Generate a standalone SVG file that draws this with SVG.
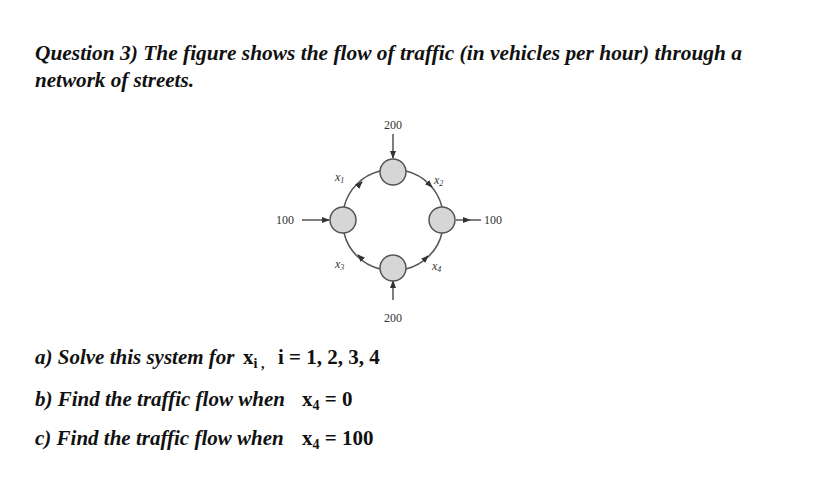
<svg xmlns="http://www.w3.org/2000/svg" width="828" height="500" viewBox="0 0 828 500">
<style>
.q{font-family:"Liberation Serif",serif;font-weight:bold;font-style:italic;font-size:21px;fill:#111}
.m{font-family:"Liberation Serif",serif;font-weight:bold;font-style:normal;fill:#111}
.l{font-family:"Liberation Serif",serif;font-size:12px;fill:#333}
.v{font-family:"Liberation Serif",serif;font-style:italic;font-size:12px;fill:#333}
.n{fill:#d6d6d6;stroke:#555;stroke-width:1.5}
.e{fill:none;stroke:#555;stroke-width:1.5}
</style>
<defs>
<marker id="a" markerWidth="8" markerHeight="6" refX="7" refY="3" orient="auto" markerUnits="userSpaceOnUse"><path d="M0,0L8,3L0,6z" fill="#333"/></marker>
</defs>
<rect width="828" height="500" fill="#fff"/>
<text class="q" x="35" y="60" textLength="707" lengthAdjust="spacingAndGlyphs">Question 3) The figure shows the flow of traffic (in vehicles per hour) through a</text>
<text class="q" x="35" y="87" textLength="159" lengthAdjust="spacingAndGlyphs">network of streets.</text>
<g id="connectors">
<path class="e" d="M344,207 A49,49 0 0 1 380,171"/>
<path class="e" d="M406,171 A49,49 0 0 1 442,207"/>
<path class="e" d="M344,233 A49,49 0 0 0 380,269"/>
<path class="e" d="M406,269 A49,49 0 0 0 442,233"/>
<path class="e" d="M358,186 L362,182" marker-end="url(#a)"/>
<path class="e" d="M428,183 L432,187" marker-end="url(#a)"/>
<path class="e" d="M362,259 L358,255" marker-end="url(#a)"/>
<path class="e" d="M424,260 L428,256" marker-end="url(#a)"/>
<path class="e" d="M393,134 V158" marker-end="url(#a)"/>
<path class="e" d="M393,300 V281" marker-end="url(#a)"/>
<path class="e" d="M302,220 H329" marker-end="url(#a)"/>
<path class="e" d="M456,220 H470" marker-end="url(#a)"/>
<path class="e" d="M468,220 H481"/>
</g>
<g id="n-top"><circle class="n" cx="393" cy="172" r="13"/></g>
<g id="n-left"><circle class="n" cx="343" cy="220" r="13"/></g>
<g id="n-right"><circle class="n" cx="442" cy="220" r="13"/></g>
<g id="n-bottom"><circle class="n" cx="393" cy="268" r="13"/></g>
<text class="l" x="393" y="129" text-anchor="middle">200</text>
<text class="l" x="393" y="322" text-anchor="middle">200</text>
<text class="l" x="276" y="224">100</text>
<text class="l" x="484" y="224">100</text>
<text class="v" x="335" y="181">x<tspan font-size="8" dy="2">1</tspan></text>
<text class="v" x="434" y="184">x<tspan font-size="8" dy="2">2</tspan></text>
<text class="v" x="335" y="268">x<tspan font-size="8" dy="2">3</tspan></text>
<text class="v" x="432" y="270">x<tspan font-size="8" dy="2">4</tspan></text>
<text class="q" x="35" y="364">a) Solve this system for <tspan class="m" x="243">x</tspan><tspan class="m" font-size="14" dy="4">i ,</tspan><tspan class="m" x="278" dy="-4">i = 1, 2, 3, 4</tspan></text>
<text class="q" x="35" y="406">b) Find the traffic flow when <tspan class="m" x="302">x</tspan><tspan class="m" font-size="14" dy="4">4</tspan><tspan class="m" dy="-4"> = 0</tspan></text>
<text class="q" x="35" y="445">c) Find the traffic flow when <tspan class="m" x="302">x</tspan><tspan class="m" font-size="14" dy="4">4</tspan><tspan class="m" dy="-4"> = 100</tspan></text>
</svg>
